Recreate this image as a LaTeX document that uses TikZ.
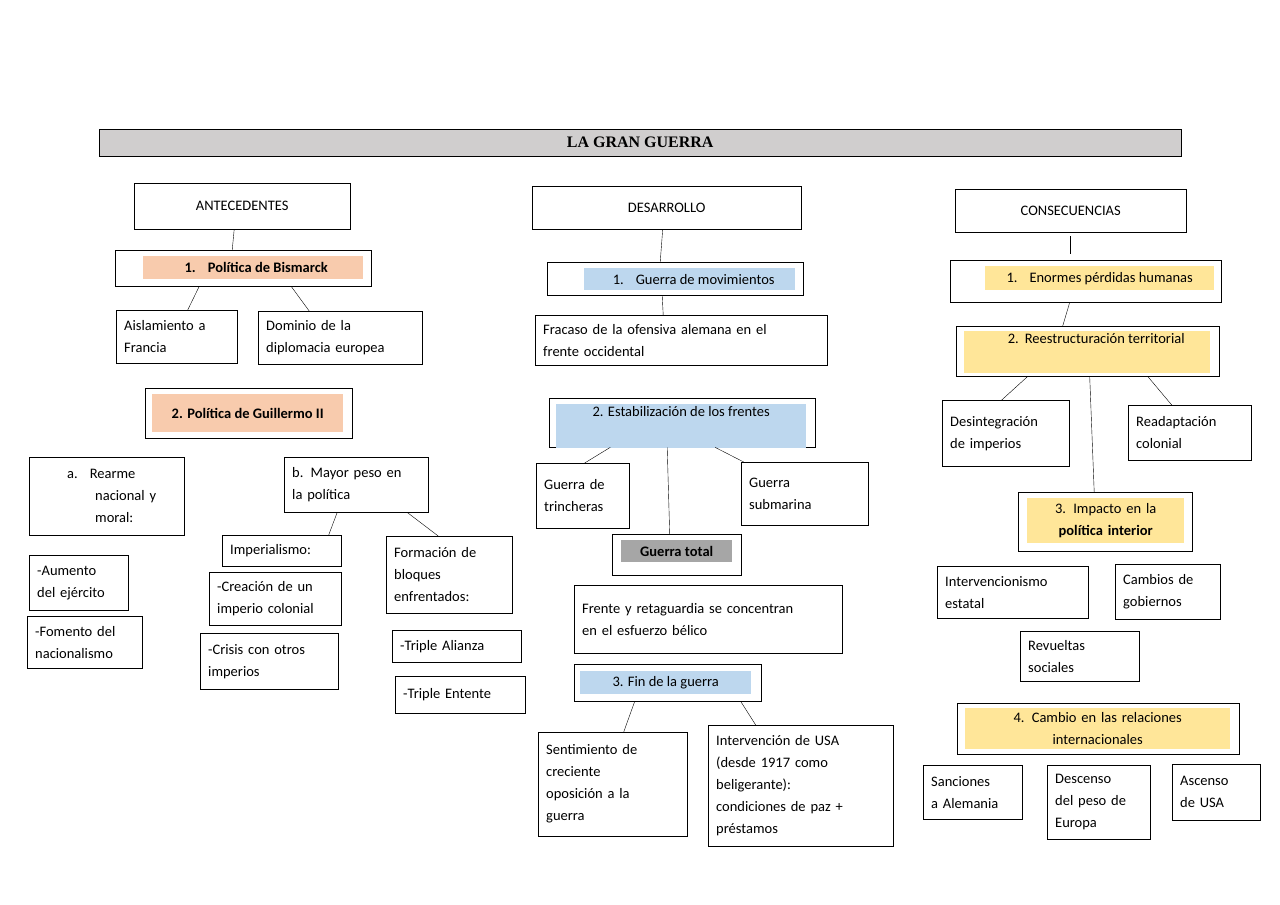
\documentclass[tikz,border=0pt]{standalone}
\usepackage{fontspec}
\setmainfont{Carlito}
\newfontfamily\titlefont{Liberation Serif}
\usetikzlibrary{positioning}
\definecolor{hlorange}{RGB}{248,203,173}
\definecolor{hlblue}{RGB}{189,215,238}
\definecolor{hlyellow}{RGB}{255,230,153}
\definecolor{hlgray}{RGB}{166,166,166}
\definecolor{titlegray}{RGB}{208,206,206}

\begin{document}
\begin{tikzpicture}[
    x=1pt, y=-1pt,
    box/.style={draw, thin, anchor=north west, inner sep=8pt, align=left, font=\fontsize{14.5}{22}\selectfont},
    hl/.style={anchor=north west, inner sep=2pt, font=\fontsize{14.5}{22}\selectfont},
    link/.style={thin}
]
    \useasboundingbox (0,0) rectangle (1280,905);

    % Title
    \node[draw, fill=titlegray, anchor=north west, minimum width=1082pt, minimum height=27pt, inner sep=0pt, font=\titlefont\bfseries\fontsize{16}{18}\selectfont] (title) at (99,129) {LA GRAN GUERRA};

    % ---------------- Antecedentes
    \node[box, minimum width=216pt, minimum height=46pt, align=center, text width=200pt] (ant) at (134,183) {ANTECEDENTES\\[4pt]};
    \node[box, minimum width=256pt, minimum height=36pt] (bism) at (115,250) {};
    \node[hl, fill=hlorange, minimum width=220pt, minimum height=23pt, font=\bfseries\fontsize{14.5}{22}\selectfont] (bismt) at (143,256) {\hspace{6pt}1.\hspace{12pt}Política de Bismarck};
    \node[box, minimum width=121pt, minimum height=53pt, text width=105pt] (aisl) at (116,310) {Aislamiento a\\Francia};
    \node[box, minimum width=164pt, minimum height=53pt, text width=148pt] (domi) at (258,311) {Dominio de la\\diplomacia europea};
    \node[box, minimum width=207pt, minimum height=50pt] (guil) at (145,388) {};
    \node[hl, fill=hlorange, minimum width=191pt, minimum height=38pt, font=\bfseries\fontsize{14.5}{22}\selectfont] (guilt) at (152,394) {2. Política de Guillermo II};
    \node[box, minimum width=155pt, minimum height=78pt, text width=139pt] (rear) at (29,457) {\hspace{30pt}a.\hspace{12pt}Rearme\\\hspace{58pt}nacional y\\\hspace{58pt}moral:};
    \node[box, minimum width=99pt, minimum height=55pt, text width=83pt] (aume) at (29,555) {-Aumento\\del ejército};
    \node[box, minimum width=115pt, minimum height=52pt, text width=99pt] (fome) at (27,616) {-Fomento del\\nacionalismo};
    \node[box, minimum width=144pt, minimum height=55pt, text width=128pt] (mayo) at (284,457) {b. Mayor peso en\\la política};
    \node[box, minimum width=119pt, minimum height=31pt, text width=103pt] (impe) at (222,535) {Imperialismo:};
    \node[box, minimum width=132pt, minimum height=53pt, text width=116pt] (crea) at (209,572) {-Creación de un\\imperio colonial};
    \node[box, minimum width=138pt, minimum height=56pt, text width=122pt] (cris) at (200,633) {-Crisis con otros\\imperios};
    \node[box, minimum width=126pt, minimum height=77pt, text width=110pt] (form) at (386,536) {Formación de\\bloques\\enfrentados:};
    \node[box, minimum width=129pt, minimum height=32pt, text width=113pt] (alia) at (392,630) {-Triple Alianza};
    \node[box, minimum width=130pt, minimum height=37pt, text width=114pt] (ente) at (395,676) {-Triple Entente};

    % ---------------- Desarrollo
    \node[box, minimum width=269pt, minimum height=43pt, align=center, text width=253pt] (desa) at (532,186) {DESARROLLO\\[2pt]};
    \node[box, minimum width=256pt, minimum height=33pt] (movi) at (547,262) {};
    \node[hl, fill=hlblue, minimum width=211pt, minimum height=22pt] (movit) at (584,268) {\hspace{8pt}1.\hspace{12pt}Guerra de movimientos};
    \node[box, minimum width=292pt, minimum height=50pt, text width=276pt] (frac) at (535,315) {Fracaso de la ofensiva alemana en el\\frente occidental};
    \node[box, minimum width=266pt, minimum height=49pt] (esta) at (549,398) {};
    \node[hl, fill=hlblue, minimum width=250pt, minimum height=37pt, anchor=north west, align=left] (estat) at (556,404) {2. Estabilización de los frentes\\[8pt]};
    \node[box, minimum width=93pt, minimum height=65pt, text width=77pt] (trin) at (536,463) {Guerra de\\trincheras};
    \node[box, minimum width=127pt, minimum height=63pt, text width=111pt] (subm) at (741,462) {Guerra\\submarina};
    \node[box, minimum width=129pt, minimum height=41pt] (tota) at (612,534) {};
    \node[hl, fill=hlgray, minimum width=111pt, minimum height=22pt, font=\bfseries\fontsize{14.5}{22}\selectfont] (totat) at (621,540) {Guerra total};
    \node[box, minimum width=268pt, minimum height=68pt, text width=252pt] (fren) at (574,585) {Frente y retaguardia se concentran\\en el esfuerzo bélico\\[8pt]};
    \node[box, minimum width=187pt, minimum height=37pt] (fing) at (574,664) {};
    \node[hl, fill=hlblue, minimum width=171pt, minimum height=23pt] (fingt) at (580,671) {3. Fin de la guerra};
    \node[box, minimum width=149pt, minimum height=104pt, text width=133pt] (sent) at (538,732) {Sentimiento de\\creciente\\oposición a la\\guerra};
    \node[box, minimum width=185pt, minimum height=121pt, text width=169pt] (inte) at (708,725) {Intervención de USA\\(desde 1917 como\\beligerante):\\condiciones de paz +\\préstamos};

    % ---------------- Consecuencias
    \node[box, minimum width=231pt, minimum height=43pt, align=center, text width=215pt] (cons) at (955,189) {CONSECUENCIAS\\[2pt]};
    \node[box, minimum width=271pt, minimum height=42pt] (perd) at (950,260) {};
    \node[hl, fill=hlyellow, minimum width=229pt, minimum height=24pt] (perdt) at (985,266) {1.\hspace{12pt}Enormes pérdidas humanas};
    \node[box, minimum width=263pt, minimum height=50pt] (rees) at (956,326) {};
    \node[hl, fill=hlyellow, minimum width=246pt, minimum height=39pt, align=left] (reest) at (964,331) {\hspace{18pt}2.\hspace{6pt}Reestructuración territorial\\[6pt]};
    \node[box, minimum width=127pt, minimum height=66pt, text width=111pt] (desi) at (942,400) {Desintegración\\de imperios};
    \node[box, minimum width=123pt, minimum height=55pt, text width=107pt] (read) at (1128,405) {Readaptación\\colonial};
    \node[box, minimum width=174pt, minimum height=59pt] (impa) at (1018,492) {};
    \node[hl, fill=hlyellow, minimum width=157pt, minimum height=45pt, align=center, text width=153pt] (impat) at (1027,498) {3. Impacto en la\\\textbf{política interior}};
    \node[box, minimum width=151pt, minimum height=52pt, text width=135pt] (intv) at (937,566) {Intervencionismo\\estatal};
    \node[box, minimum width=105pt, minimum height=55pt, text width=89pt] (camb) at (1115,564) {Cambios de\\gobiernos};
    \node[box, minimum width=119pt, minimum height=50pt, text width=103pt] (revu) at (1020,631) {Revueltas\\sociales};
    \node[box, minimum width=282pt, minimum height=51pt] (rela) at (957,703) {};
    \node[hl, fill=hlyellow, minimum width=265pt, minimum height=41pt, align=center, text width=261pt] (relat) at (965,708) {4. Cambio en las relaciones\\internacionales};
    \node[box, minimum width=99pt, minimum height=54pt, text width=83pt] (sanc) at (923,765) {Sanciones\\a Alemania};
    \node[box, minimum width=103pt, minimum height=74pt, text width=87pt] (desc) at (1047,765) {Descenso\\del peso de\\Europa};
    \node[box, minimum width=88pt, minimum height=56pt, text width=72pt] (asce) at (1172,764) {Ascenso\\de USA};

    % Connectors
    \draw[link] ([xshift=-8pt]ant.south) -- ([xshift=-11pt]bism.north);
    \draw[link] ([xshift=-44pt]bism.south) -- ([xshift=11pt]aisl.north);
    \draw[link] ([xshift=48pt]bism.south) -- ([xshift=-31pt]domi.north);
    \draw[link] ([xshift=-19pt]mayo.south) -- ([xshift=47pt]impe.north);
    \draw[link] ([xshift=51pt]mayo.south) -- ([xshift=-11pt]form.north);
    \draw[link] ([xshift=-4pt]desa.south) -- ([xshift=-15pt]movi.north);
    \draw[link] ([xshift=-13pt]movi.south) -- ([xshift=-18pt]frac.north);
    \draw[link] ([xshift=-72pt]esta.south) -- ([xshift=2pt]trin.north);
    \draw[link] ([xshift=-15pt]esta.south) -- ([xshift=-7pt]tota.north);
    \draw[link] ([xshift=33pt]esta.south) -- ([xshift=-61pt]subm.north);
    \draw[link] ([xshift=-33pt]fing.south) -- ([xshift=11pt]sent.north);
    \draw[link] ([xshift=73pt]fing.south) -- ([xshift=-45pt]inte.north);
    \draw[link] ([xshift=-1pt,yshift=-4pt]cons.south) -- ([xshift=-16pt,yshift=6pt]perd.north);
    \draw[link] ([xshift=-16pt]perd.south) -- ([xshift=-25pt]rees.north);
    \draw[link] ([xshift=-60pt]rees.south) -- ([xshift=-4pt]desi.north);
    \draw[link] ([xshift=2pt]rees.south) -- ([xshift=-11pt]impa.north);
    \draw[link] ([xshift=60pt]rees.south) -- ([xshift=-18pt]read.north);
\end{tikzpicture}
\end{document}
